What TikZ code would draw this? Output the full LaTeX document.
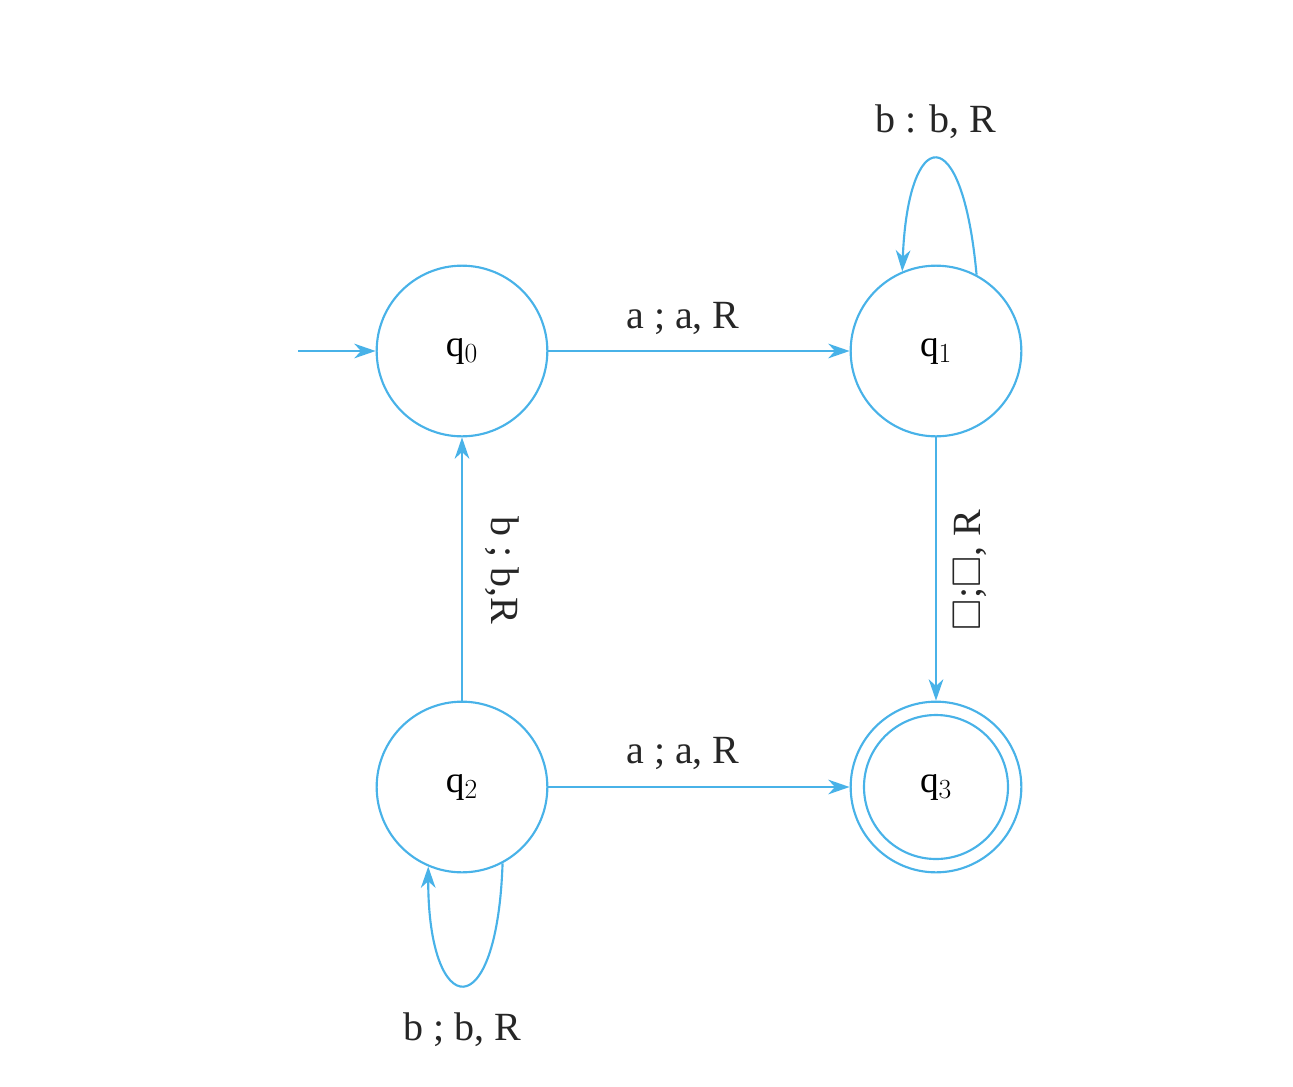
\documentclass[tikz,border=0pt]{standalone}
\usepackage{amssymb}
\usepackage{fontspec}
\setmainfont{Liberation Serif}
\usetikzlibrary{arrows.meta}
\definecolor{edgeblue}{RGB}{72,178,232}
\tikzset{every picture/.style={line width=1.6pt}}
\tikzset{
  state/.style={circle,draw=edgeblue,minimum size=128pt,inner sep=0pt,font=\fontsize{28}{32}\selectfont},
  accepting/.style={append after command={\pgfextra{\draw[edgeblue] (\tikzlastnode) circle (54pt);}}},
  trans/.style={draw=edgeblue,-{Stealth[length=16pt,width=11pt,inset=5pt]}},
  lbl/.style={inner sep=0.75pt,font=\fontsize{30}{34}\selectfont,text=black!85}
}
\begin{document}
\begin{tikzpicture}[x=0.75pt,y=0.75pt,yscale=-1,xscale=1]
\useasboundingbox (0,0) rectangle (1293,1086);

\node [state] (q0) at (462,351) {q$_0$};
\node [state] (q1) at (936,351) {q$_1$};
\node [state] (q2) at (462,787) {q$_2$};
\node [state] (q3) at (936,787) {q$_3$};
\draw [edgeblue] (q3) circle (54pt);
\coordinate (start) at (298,351);

\draw [trans] (start) -- (q0);
\draw [trans] (q0) -- (q1);
\draw [trans] (q2) -- (q3);
\draw [trans] (q2) -- (q0);
\draw [trans] (q1) -- (q3);
\draw [trans] (q1.62) .. controls (962,116) and (908,126) .. (q1.113);
\draw [trans] (q2.-62) .. controls (497,1030) and (428,1020) .. (q2.-113);

\draw (683,318) node [lbl] {a ; a, R};
\draw (683,753) node [lbl] {a ; a, R};
\draw (936,122) node [lbl] {b : b, R};
\draw (462,1030) node [lbl] {b ; b, R};
\draw (502,570) node [lbl,rotate=-90] {b ; b,R};
\draw (970,570) node [lbl,rotate=90] {$\square$;$\square$, R};

\end{tikzpicture}
\end{document}
